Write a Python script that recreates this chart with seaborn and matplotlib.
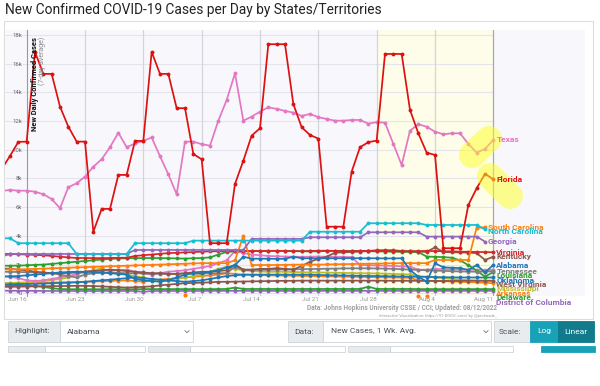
import pandas as pd
import matplotlib
matplotlib.use("Agg")
import matplotlib.pyplot as plt
import matplotlib.dates as mdates
from matplotlib.patches import Rectangle
from matplotlib.lines import Line2D
import seaborn as sns

sns.set_style("white")
plt.rcParams["font.family"] = ["Roboto", "DejaVu Sans"]

# daily 7-day averages, Jun 13 .. Aug 11 2022
dates = pd.date_range("2022-06-13", "2022-08-11", freq="D")

florida = [8660, 9570, 10550, 10570, 16820, 15290, 15290, 13010, 11610, 10570,
           10570, 4290, 5880, 5880, 8250, 8250, 10620, 10620, 16820, 15290,
           15290, 12900, 12900, 9710, 9340, 3490, 3490, 3490, 7620, 9240,
           10990, 11500, 17360, 17360, 17360, 13190, 11570, 11030, 10780, 4640,
           4640, 4640, 8480, 10180, 10530, 10640, 16680, 16680, 16680, 12780,
           11150, 9800, 9640, 3140, 3140, 3140, 6150, 7320, 8320, 7950]
texas = [7130, 7200, 7150, 7150, 7080, 6900, 6570, 5930, 7390, 7670,
         8130, 8820, 9340, 10180, 11190, 10180, 10440, 10620, 10860, 9550,
         8290, 6900, 10570, 10570, 10390, 10290, 12030, 13470, 15330, 12030,
         12310, 12660, 12960, 12850, 12710, 12590, 12360, 12500, 12270, 12150,
         12030, 12030, 12080, 12080, 11820, 11930, 11890, 10410, 8940, 11330,
         11780, 11610, 11260, 11080, 11150, 11150, 10410, 9800, 10060, 10690]
north_carolina = [3830, 3830, 3490, 3490, 3490, 3490, 3490, 3490, 3490, 2740,
                  2740, 2740, 2740, 2740, 2740, 2740, 3490, 3490, 3490, 3490,
                  3490, 3490, 3490, 3670, 3670, 3670, 3670, 3670, 3670, 3670,
                  3670, 3670, 3670, 3670, 3670, 3670, 3670, 4290, 4290, 4290,
                  4290, 4290, 4290, 4290, 4880, 4880, 4880, 4880, 4880, 4880,
                  4880, 4760, 4760, 4760, 4760, 4760, 4760, 4760, 4450]
georgia = [2550, 2740, 2740, 2740, 2740, 2740, 2740, 2740, 2740, 2740,
           2740, 2740, 2740, 2740, 2740, 2740, 3020, 3020, 3020, 3020,
           3020, 3020, 3020, 3020, 3020, 3020, 3020, 3020, 3020, 3020,
           3790, 3790, 3790, 3790, 3790, 3790, 3790, 3900, 3900, 3900,
           3900, 3900, 3900, 3900, 4250, 4250, 4250, 4250, 4250, 4250,
           4250, 3950, 3950, 3950, 3950, 3950, 3950, 3950, 3600]
south_carolina = [1650, 1660, 1670, 1680, 1700, 1720, 1740, 1760, 1780, 1800,
                  1820, 1840, 1860, 1880, 1900, 1920, 1940, 1960, 1980, 2000,
                  2020, 2040, 2060, 2080, 2100, 2100, 2100, 2100, 2300, 4000,
                  1970, 1970, 1970, 1970, 1980, 1990, 2000, 2000, 2000, 2010,
                  2020, 2030, 2040, 2050, 2060, 2070, 2080, 2090, 2100, 2100,
                  2100, 2100, 2320, 2320, 2320, 2320, 2320, 4570, 4600]
virginia = [2740, 2740, 2720, 2700, 2680, 2650, 2600, 2550, 2500, 2460,
            2460, 2450, 2450, 2460, 2470, 2480, 2600, 2650, 2700, 2750,
            2800, 2820, 2850, 2870, 2900, 2920, 2930, 2950, 2950, 2960,
            2950, 2940, 2950, 2960, 2950, 2940, 2930, 2950, 2960, 2970,
            2950, 2940, 2930, 2950, 2960, 2950, 2940, 2930, 2920, 2930,
            2940, 2950, 2940, 2930, 2920, 2900, 2890, 2880, 2870, 2860]
kentucky = [1740, 1700, 1650, 1600, 1500, 1450, 1400, 1400, 1420, 1450,
            1500, 1550, 1600, 1650, 1600, 1550, 1500, 1450, 1400, 1400,
            1350, 1350, 1400, 1450, 1500, 1500, 1550, 1600, 2000, 1650,
            1650, 1700, 1700, 1750, 1700, 1650, 1900, 2200, 2400, 2550,
            2830, 2850, 2880, 2900, 2950, 3000, 3010, 3000, 2950, 2920,
            2900, 2880, 3200, 2880, 2860, 2850, 2830, 2800, 2320, 2550]
alabama = [1160, 1180, 1200, 1250, 1300, 1350, 1400, 1450, 1480, 1500,
           1500, 1480, 1450, 1400, 1350, 1300, 1000, 900, 850, 810,
           900, 1100, 1300, 1390, 1400, 1500, 1600, 1800, 1970, 2550,
           2410, 2410, 2410, 2400, 2400, 2550, 2440, 2440, 2430, 2440,
           2440, 2440, 2450, 2440, 2440, 2440, 2430, 2430, 2440, 1620,
           1160, 810, 2090, 1810, 1780, 1760, 1620, 1970, 1460, 1970]
tennessee = [1500, 1490, 1480, 1470, 1450, 1430, 1400, 1300, 1200, 1100,
             1300, 1400, 1420, 1430, 1420, 1400, 1400, 1380, 1370, 1360,
             1350, 1360, 1370, 1380, 1390, 1390, 1400, 1400, 1850, 1620,
             1620, 1630, 1640, 1650, 1660, 1670, 1680, 1690, 1700, 1710,
             1720, 1730, 1740, 1740, 1740, 1730, 1720, 1700, 1680, 1650,
             1630, 1600, 1580, 1560, 1540, 1520, 1510, 1500, 1510, 1530]
louisiana = [1920, 1920, 1930, 1950, 1980, 2000, 2050, 2100, 2150, 2200,
             2250, 2300, 2350, 2400, 2420, 2440, 2450, 2450, 2460, 2450,
             2440, 2430, 2420, 2440, 2460, 2500, 2700, 2880, 2920, 2930,
             2940, 2950, 2960, 2950, 2950, 2940, 2930, 2920, 2930, 2940,
             2950, 2960, 2950, 2940, 2930, 2920, 2910, 2900, 2890, 2880,
             2870, 2560, 2540, 2520, 2480, 2300, 1960, 1580, 1160, 1480]
puerto_rico = [1200, 1150, 1050, 900, 850, 900, 1000, 1100, 1200, 1350,
               1500, 1550, 1580, 1600, 1620, 1650, 1500, 1400, 1300, 1400,
               1500, 1550, 1600, 1700, 1800, 1900, 2100, 2300, 2950, 2800,
               2700, 2650, 2600, 2580, 2560, 2550, 2540, 2550, 2560, 2550,
               2550, 2540, 2520, 1970, 1950, 1940, 1930, 1900, 1880, 1850,
               1650, 1640, 1700, 1680, 1670, 1660, 1650, 1640, 1630, 1620]
oklahoma = [600, 620, 640, 650, 660, 680, 700, 720, 740, 760,
            800, 850, 900, 950, 1000, 1050, 1100, 1050, 1000, 950,
            900, 850, 800, 850, 900, 1000, 1100, 1200, 1250, 1300,
            1300, 1300, 1300, 1300, 1300, 1300, 1300, 1300, 1280, 1260,
            1250, 1240, 1230, 1220, 1210, 1200, 1190, 1180, 1170, 1160,
            1150, 1140, 1130, 1120, 1110, 1100, 1100, 1100, 1100, 1100]
west_virginia = [450, 450, 460, 470, 480, 490, 500, 500, 510, 520,
                 520, 500, 480, 450, 420, 400, 420, 450, 480, 550,
                 600, 650, 700, 720, 740, 760, 800, 800, 810, 820,
                 830, 840, 850, 860, 870, 870, 880, 880, 880, 880,
                 880, 880, 880, 880, 880, 880, 880, 870, 870, 870,
                 870, 860, 860, 860, 860, 870, 880, 880, 880, 880]
mississippi = [700, 720, 740, 760, 800, 850, 930, 1000, 1100, 1300,
               1500, 1600, 1740, 1500, 1400, 1300, 1200, 1100, 930, 900,
               950, 1000, 1100, 1200, 1300, 1500, 1700, 1850, 1700, 1600,
               1550, 1520, 1500, 1500, 1500, 1480, 1470, 1460, 1450, 1440,
               1430, 1420, 1410, 1400, 1390, 1380, 1370, 1350, 1330, 1310,
               1200, 1150, 1100, 1050, 1000, 950, 900, 880, 860, 850]
arkansas = [700, 700, 710, 720, 730, 740, 750, 760, 770, 780,
            800, 820, 840, 860, 880, 900, 850, 800, 900, 950,
            1000, 1050, 1100, 1150, 1200, 1250, 1300, 1400, 1350, 1300,
            1280, 1260, 1250, 1240, 1230, 1220, 1210, 1200, 1190, 1180,
            1170, 1160, 1150, 1140, 1130, 1120, 1110, 1100, 1090, 1080,
            900, 880, 860, 840, 820, 800, 780, 760, 730, 700]
delaware = [580, 570, 560, 540, 500, 450, 350, 300, 280, 280,
            280, 280, 280, 280, 280, 280, 280, 290, 290, 290,
            290, 290, 290, 290, 290, 290, 290, 300, 400, 300,
            300, 300, 300, 300, 300, 300, 300, 300, 300, 300,
            300, 300, 300, 300, 460, 300, 300, 300, 300, 300,
            290, 290, 290, 290, 290, 290, 290, 290, 290, 290]
dc = [180, 180, 170, 170, 170, 160, 160, 160, 160, 160,
      160, 160, 160, 160, 160, 160, 160, 100, 160, 160,
      160, 160, 160, 160, 160, 170, 170, 170, 170, 170,
      170, 170, 170, 170, 170, 170, 170, 170, 170, 170,
      170, 170, 170, 170, 170, 170, 170, 170, 170, 170,
      170, 170, 170, 170, 170, 170, 170, 170, 170, 170]

# stray negative daily values drawn as lone dots
neg_dates = ["2022-07-05", "2022-08-02", "2022-08-03"]
neg_values = [-120, -180, -180]

series = {
    "District of Columbia": dc, "Delaware": delaware, "Arkansas": arkansas,
    "Mississippi": mississippi, "West Virginia": west_virginia, "Oklahoma": oklahoma,
    "Puerto Rico": puerto_rico, "Louisiana": louisiana, "Tennessee": tennessee,
    "Kentucky": kentucky, "Virginia": virginia, "South Carolina": south_carolina,
    "Georgia": georgia, "North Carolina": north_carolina, "Alabama": alabama,
    "Texas": texas, "Florida": florida,
}
colors = {
    "District of Columbia": "#9467bd", "Delaware": "#2ca02c", "Arkansas": "#ff7f0e",
    "Mississippi": "#bcbd22", "West Virginia": "#8c564b", "Oklahoma": "#1f77b4",
    "Puerto Rico": "#e377c2", "Louisiana": "#2ca02c", "Tennessee": "#7f7f7f",
    "Kentucky": "#8c564b", "Virginia": "#d62728", "South Carolina": "#ff7f0e",
    "Georgia": "#9467bd", "North Carolina": "#17becf", "Alabama": "#1f77b4",
    "Texas": "#e377c2", "Florida": "#dd1111",
}
unlabeled = ["Puerto Rico"]

frames = [pd.DataFrame({"date": dates[:len(v)], "cases": v, "state": k})
          for k, v in series.items()]
df = pd.concat(frames, ignore_index=True)

W, H = 600, 386
def fx(x):
    return x / W
def fy(y):
    return 1 - y / H

fig = plt.figure(figsize=(6, 3.86), dpi=100)
fig.patch.set_facecolor("white")

# chart frame
fig.add_artist(Rectangle((fx(4), fy(319)), fx(593) - fx(4), fy(21) - fy(319),
                         transform=fig.transFigure, fc="white", ec="#dddddd", lw=0.8, zorder=-5))

ax = fig.add_axes([fx(5), fy(296), fx(585) - fx(5), fy(30) - fy(296)])
ax.set_facecolor("#f8f8fc")

day0 = mdates.date2num(pd.Timestamp("2022-06-16"))
last = mdates.date2num(dates[-1])
x_lo, x_hi = day0 - 2.6, day0 + 67.0

weeks = pd.date_range("2022-06-16", "2022-08-11", freq="7D")
ax.axvspan(mdates.date2num(pd.Timestamp("2022-07-28")), last, color="#fdfde9", zorder=0, lw=0)

yticks = list(range(0, 18001, 2000))
ax.hlines(yticks, x_lo, last, color="#e4e4ec", lw=0.8, zorder=0.5)
for w in weeks[1:-1]:
    ax.axvline(mdates.date2num(w), color="#d4d4dc", lw=0.9, zorder=0.6)
ax.axvline(last, color="#a8a8a8", lw=0.9, zorder=0.6)

sns.lineplot(data=df, x="date", y="cases", hue="state", hue_order=list(series.keys()),
             palette=colors, marker="o", markersize=2.8, markeredgewidth=0,
             linewidth=1.25, estimator=None, sort=False, legend=False, ax=ax)
ax.plot(pd.to_datetime(neg_dates), neg_values, "o", color="#ff7f0e", ms=3, mew=0, clip_on=False)

ax.set_xlim(x_lo, x_hi)
ax.set_ylim(-190, 18350)

for s in ["top", "right", "bottom"]:
    ax.spines[s].set_visible(False)
ax.spines["left"].set_position(("data", day0))
ax.spines["left"].set_color("#9a9a9a")
ax.spines["left"].set_linewidth(0.8)
ax.spines["left"].set_zorder(0.7)

ax.set_yticks(yticks)
ax.set_yticklabels([f"{v // 1000}k" if v else "0" for v in yticks])
ax.tick_params(axis="y", length=2.5, width=0.6, color="#9a9a9a", pad=1,
               labelsize=4.3, labelcolor="#666666")
ax.set_xticks([mdates.date2num(w) for w in weeks])
ax.set_xticklabels([f"{w:%b} {w.day}" for w in weeks])
ax.tick_params(axis="x", length=0, pad=1, labelsize=4.5, labelcolor="#9a9a9a")
for lab in ax.get_xticklabels():
    lab.set_ha("right")
ax.set_xlabel("")
ax.set_ylabel("")

# highlight blobs over the last days of Texas and Florida
for (x0, y0, x1, y1) in [(472, 155, 489, 139), (490, 176, 510, 196)]:
    ax.add_artist(Line2D([fx(x0), fx(x1)], [fy(y0), fy(y1)], transform=fig.transFigure,
                         lw=26 * 0.72, color="#ffff22", alpha=0.5,
                         solid_capstyle="round", clip_on=False, zorder=3))

# end labels, pushed apart when they crowd
ends = []
for name, vals in series.items():
    if name in unlabeled:
        continue
    xn = mdates.date2num(dates[len(vals) - 1])
    ends.append((name, xn, vals[-1], ax.transData.transform((xn, vals[-1]))[1]))
ends.sort(key=lambda t: -t[3])
prev = None
for name, xn, v, ypix in ends:
    target = ypix if prev is None else min(ypix, prev - 4.4)
    prev = target
    ax.annotate(name, xy=(xn, v), xytext=(2.2, (target - ypix) * 0.72),
                textcoords="offset points", ha="left", va="center",
                fontsize=6.0, weight="bold", color=colors[name],
                annotation_clip=False, zorder=4)

# titles and axis caption
fig.text(fx(5), fy(10), "New Confirmed COVID-19 Cases per Day by States/Territories",
         ha="left", va="center", fontsize=9.9, color="#222222")
fig.text(fx(35), fy(37), "New Daily Confirmed Cases", rotation=90, ha="center", va="top",
         fontsize=5.4, weight="bold", color="#111111")
fig.text(fx(42.5), fy(37), "(7-day average)", rotation=90, ha="center", va="top",
         fontsize=5.0, color="#8a8a8a")

fig.text(fx(497), fy(308), "Data: Johns Hopkins University CSSE / CCI; Updated: 08/12/2022",
         ha="right", va="center", fontsize=4.7, weight="bold", color="#a0a0a0")
fig.text(fx(497), fy(315.5), "Interactive Visualization: https://91-DIVOC.com/ by @profwade_",
         ha="right", va="center", fontsize=3.0, color="#a0a0a0")

# control bar under the chart
def box(x0, x1, y0, y1, fc, ec="#ced4da"):
    fig.add_artist(Rectangle((fx(x0), fy(y1)), fx(x1) - fx(x0), fy(y0) - fy(y1),
                             transform=fig.transFigure, fc=fc, ec=ec, lw=0.6))

def chevron(xc, yc):
    fig.add_artist(Line2D([fx(xc - 2.2), fx(xc), fx(xc + 2.2)], [fy(yc - 1), fy(yc + 1.2), fy(yc - 1)],
                          transform=fig.transFigure, color="#777777", lw=0.6))

r0, r1 = 321, 342
box(8, 60, r0, r1, "#e9ecef")
box(60, 193, r0, r1, "white")
box(288, 323, r0, r1, "#e9ecef")
box(323, 491, r0, r1, "white")
box(494, 530, r0, r1, "#e9ecef")
box(530, 558, r0, r1, "#17a2b8", ec="#17a2b8")
box(558, 594, r0, r1, "#117a8b", ec="#117a8b")
ym = (r0 + r1) / 2
fig.text(fx(14), fy(ym), "Highlight:", ha="left", va="center", fontsize=6, color="#495057")
fig.text(fx(67), fy(ym), "Alabama", ha="left", va="center", fontsize=6, color="#495057")
fig.text(fx(294), fy(ym), "Data:", ha="left", va="center", fontsize=6, color="#495057")
fig.text(fx(331), fy(ym), "New Cases, 1 Wk. Avg.", ha="left", va="center", fontsize=6, color="#495057")
fig.text(fx(499), fy(ym), "Scale:", ha="left", va="center", fontsize=6, color="#495057")
fig.text(fx(544), fy(ym), "Log", ha="center", va="center", fontsize=6, color="white")
fig.text(fx(576), fy(ym), "Linear", ha="center", va="center", fontsize=6, color="white")
chevron(187, ym)
chevron(486, ym)

s0, s1 = 346, 352
box(8, 45, s0, s1, "#e9ecef")
box(45, 145, s0, s1, "white")
box(148, 190, s0, s1, "#e9ecef")
box(190, 345, s0, s1, "white")
box(348, 390, s0, s1, "#e9ecef")
box(390, 513, s0, s1, "white")
box(541, 595, s0, s1, "#17a2b8", ec="#17a2b8")

fig.savefig("out.png", dpi=100)
